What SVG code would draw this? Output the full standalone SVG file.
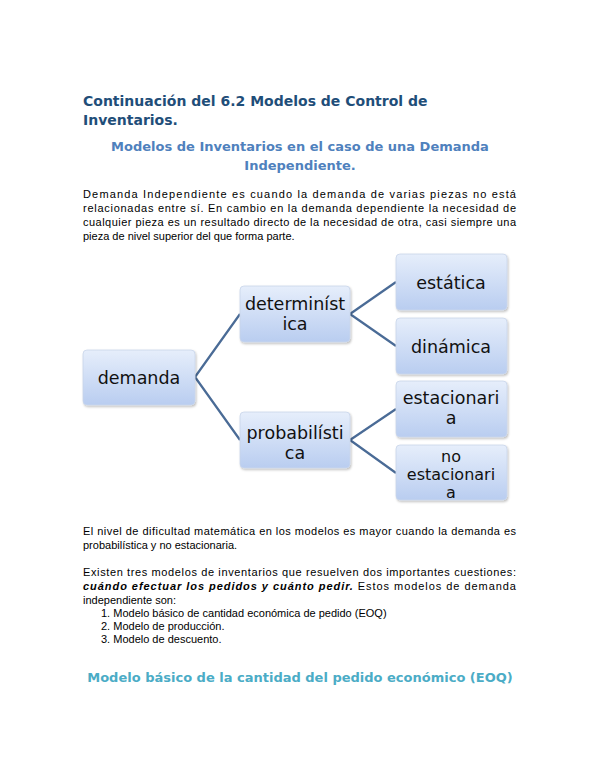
<svg xmlns="http://www.w3.org/2000/svg" width="600" height="776" viewBox="0 0 600 776">
<defs>
<linearGradient id="g" x1="0" y1="0" x2="0" y2="1"><stop offset="0" stop-color="#e6eefb"/><stop offset="1" stop-color="#b9cdf0"/></linearGradient>
<filter id="sh" x="-10%" y="-10%" width="130%" height="130%"><feDropShadow dx="1" dy="1.5" stdDeviation="1" flood-color="#000" flood-opacity="0.25"/></filter>
</defs>
<style>
.b{font-family:"Liberation Sans",Arial,sans-serif;font-size:11px;fill:#000}
.n rect{fill:url(#g);stroke:#c9d6ea;stroke-width:0.8;filter:url(#sh)}
.n text{font-family:"DejaVu Sans",sans-serif;font-size:17.5px;fill:#111;text-anchor:middle}
.c path{fill:none;stroke:#4a6b96;stroke-width:2.2}
</style>
<rect width="600" height="776" fill="#fff"/>
<text x="83" y="106" font-family="DejaVu Sans,sans-serif" font-size="14" font-weight="bold" fill="#1f4e79">Continuación del 6.2 Modelos de Control de</text>
<text x="83" y="125" font-family="DejaVu Sans,sans-serif" font-size="14" font-weight="bold" fill="#1f4e79">Inventarios.</text>
<text x="300" y="151" text-anchor="middle" font-family="DejaVu Sans,sans-serif" font-size="13" font-weight="bold" fill="#4f81bd">Modelos de Inventarios en el caso de una Demanda</text>
<text x="300" y="170" text-anchor="middle" font-family="DejaVu Sans,sans-serif" font-size="13" font-weight="bold" fill="#4f81bd">Independiente.</text>
<g id="intro">
<text class="b" x="83" y="198" textLength="433" lengthAdjust="spacing">Demanda Independiente es cuando la demanda de varias piezas no está</text>
<text class="b" x="83" y="212" textLength="433" lengthAdjust="spacing">relacionadas entre sí. En cambio en la demanda dependiente la necesidad de</text>
<text class="b" x="83" y="226" textLength="433" lengthAdjust="spacing">cualquier pieza es un resultado directo de la necesidad de otra, casi siempre una</text>
<text class="b" x="83" y="240">pieza de nivel superior del que forma parte.</text>
</g>
<g class="c">
<path d="M195 377 L240 314 M195 377 L240 440 M350 314 L396 282 M350 314 L396 346 M350 440 L396 409 M350 440 L396 473"/>
</g>
<g id="n-demanda" class="n"><rect x="83" y="350" width="112" height="55" rx="4"/><text x="139" y="384">demanda</text></g>
<g id="n-det" class="n"><rect x="240" y="286" width="110" height="56" rx="4"/><text x="295" y="310">determiníst</text><text x="295" y="330">ica</text></g>
<g id="n-prob" class="n"><rect x="240" y="412" width="110" height="56" rx="4"/><text x="295" y="439">probabilísti</text><text x="295" y="459">ca</text></g>
<g id="n-est" class="n"><rect x="396" y="254" width="111" height="56" rx="4"/><text x="451" y="289">estática</text></g>
<g id="n-din" class="n"><rect x="396" y="318" width="111" height="56" rx="4"/><text x="451" y="353">dinámica</text></g>
<g id="n-estac" class="n"><rect x="396" y="381" width="111" height="56" rx="4"/><text x="451" y="404">estacionari</text><text x="451" y="424">a</text></g>
<g id="n-noest" class="n"><rect x="396" y="445" width="111" height="55" rx="4"/><text x="451" y="462" style="font-size:16px">no</text><text x="451" y="480" style="font-size:16px">estacionari</text><text x="451" y="498" style="font-size:16px">a</text></g>
<text class="b" x="83" y="535" textLength="433" lengthAdjust="spacing">El nivel de dificultad matemática en los modelos es mayor cuando la demanda es</text>
<text class="b" x="83" y="549">probabilística y no estacionaria.</text>
<text class="b" x="83" y="576" textLength="433" lengthAdjust="spacing">Existen tres modelos de inventarios que resuelven dos importantes cuestiones:</text>
<text class="b" x="83" y="590" textLength="433" lengthAdjust="spacing"><tspan font-weight="bold" font-style="italic">cuándo efectuar los pedidos y cuánto pedir.</tspan> Estos modelos de demanda</text>
<text class="b" x="83" y="604">independiente son:</text>
<text class="b" x="101" y="617">1.  Modelo básico de cantidad económica de pedido (EOQ)</text>
<text class="b" x="101" y="630">2.  Modelo de producción.</text>
<text class="b" x="101" y="643">3.  Modelo de descuento.</text>
<text x="300" y="682" text-anchor="middle" font-family="DejaVu Sans,sans-serif" font-size="13" font-weight="bold" fill="#4bacc6">Modelo básico de la cantidad del pedido económico (EOQ)</text>
</svg>
